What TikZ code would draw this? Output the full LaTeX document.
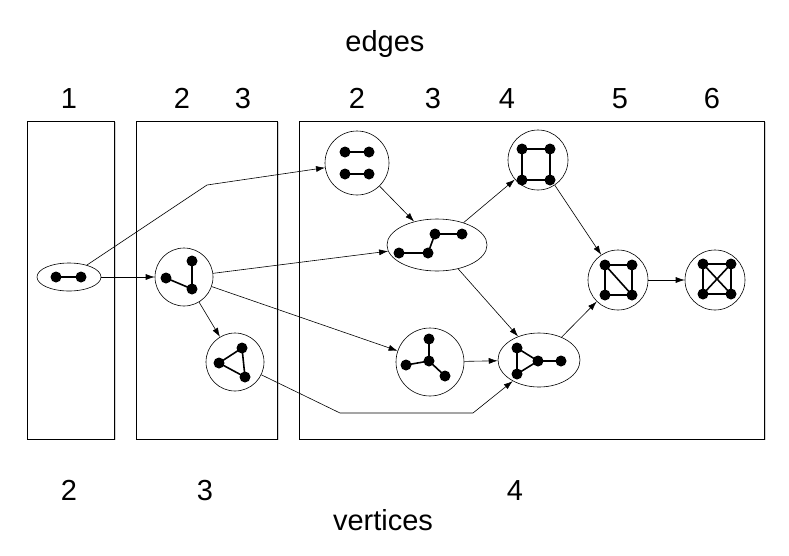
\documentclass[tikz,border=0pt]{standalone}
\usepackage{fontspec}
\setmainfont{Liberation Sans}
\usetikzlibrary{arrows.meta,shapes.geometric,shadows}

\begin{document}
\begin{tikzpicture}[
    x=1pt, y=-1pt,
    >={Latex[length=9pt,width=6pt]},
    class box/.style={draw,fill=white,line width=0.8pt,drop shadow={opacity=0.35,shadow xshift=2pt,shadow yshift=-1pt}},
    graph node/.style={draw,circle,inner sep=0pt,line width=0.6pt},
    wide node/.style={draw,ellipse,inner sep=0pt,line width=0.6pt},
    step link/.style={->,line width=0.6pt},
    vertex/.style={fill=black},
    edge/.style={line width=1.6pt},
    label text/.style={font=\fontsize{29}{34}\selectfont,anchor=base}
    ]
    \useasboundingbox (0,0) rectangle (789,555);
    % boxes
    \draw [class box] (27,121) rectangle (114,439);
    \draw [class box] (136,121) rectangle (277,439);
    \draw [class box] (299,121) rectangle (764,439);
    % labels
    \node [label text] (edges) at (385,51) {edges};
    \node [label text] (vertices) at (383,530) {vertices};
    \foreach \x/\N in {69/1,182/2,243/3,357/2,433/3,507/4,620/5,712/6} {
        \node [label text] (E\x) at (\x,108) {\N};
    }
    \foreach \x/\N in {69/2,205/3,515/4} {
        \node [label text] (V\x) at (\x,500) {\N};
    }
    % nodes
    \node [wide node,minimum width=64pt,minimum height=28pt] (g1) at (69,277) {};
    \node [graph node,minimum size=58pt] (g2) at (184,277) {};
    \node [graph node,minimum size=58pt] (g3) at (235,362) {};
    \node [graph node,minimum size=64pt] (g4) at (357,163) {};
    \node [wide node,minimum width=100pt,minimum height=52pt] (g5) at (437,245) {};
    \node [graph node,minimum size=68pt] (g6) at (430,362) {};
    \node [graph node,minimum size=60pt] (g7) at (538,160) {};
    \node [wide node,minimum width=82pt,minimum height=54pt] (g8) at (539,360) {};
    \node [graph node,minimum size=60pt] (g9) at (618,280) {};
    \node [graph node,minimum size=60pt] (g10) at (715,280) {};
    % small graphs
    \draw [edge] (56,277) -- (81,277);
    \draw [edge] (166,278) -- (192,289) -- (192,261);
    \draw [edge] (219,363) -- (242,348) -- (245,377) -- cycle;
    \draw [edge] (345,152) -- (369,152) (345,174) -- (369,174);
    \draw [edge] (399,253) -- (428,253) -- (435,234) -- (462,234);
    \draw [edge] (429,339) -- (429,361) -- (406,365) (429,361) -- (445,376);
    \draw [edge] (522,149) -- (550,149) -- (550,180) -- (522,180) -- cycle;
    \draw [edge] (517,348) -- (538,361) -- (517,374) -- cycle (538,361) -- (561,361);
    \draw [edge] (605,265) -- (632,265) -- (632,295) -- (605,295) -- cycle (605,265) -- (632,295);
    \draw [edge] (703,264) -- (731,264) -- (731,294) -- (703,294) -- cycle (703,264) -- (731,294) (731,264) -- (703,294);
    \foreach \p in {(56,277),(81,277),(166,278),(192,289),(192,261),(219,363),(242,348),(245,377),
        (345,152),(369,152),(345,174),(369,174),(399,253),(428,253),(435,234),(462,234),
        (429,339),(429,361),(406,365),(445,376),(522,149),(550,149),(550,180),(522,180),
        (517,348),(538,361),(517,374),(561,361),(605,265),(632,265),(632,295),(605,295),
        (703,264),(731,264),(731,294),(703,294)} {
        \fill [vertex] \p circle (5.5pt);
    }
    % arcs
    \coordinate (bend1) at (207,185);
    \coordinate (bend2) at (340,413);
    \coordinate (bend3) at (473,413);
    \draw [step link] (g1) -- (bend1) -- (g4);
    \draw [step link] (g1) -- (g2);
    \draw [step link] (g2) -- (g5);
    \draw [step link] (g2) -- (g6);
    \draw [step link] (g2) -- (g3);
    \draw [step link] (g3) -- (bend2) -- (bend3) -- (g8);
    \draw [step link] (g4) -- (g5);
    \draw [step link] (g5) -- (g7);
    \draw [step link] (g5) -- (g8);
    \draw [step link] (g6) -- (g8);
    \draw [step link] (g8) -- (g9);
    \draw [step link] (g7) -- (g9);
    \draw [step link] (g9) -- (g10);
\end{tikzpicture}
\end{document}
